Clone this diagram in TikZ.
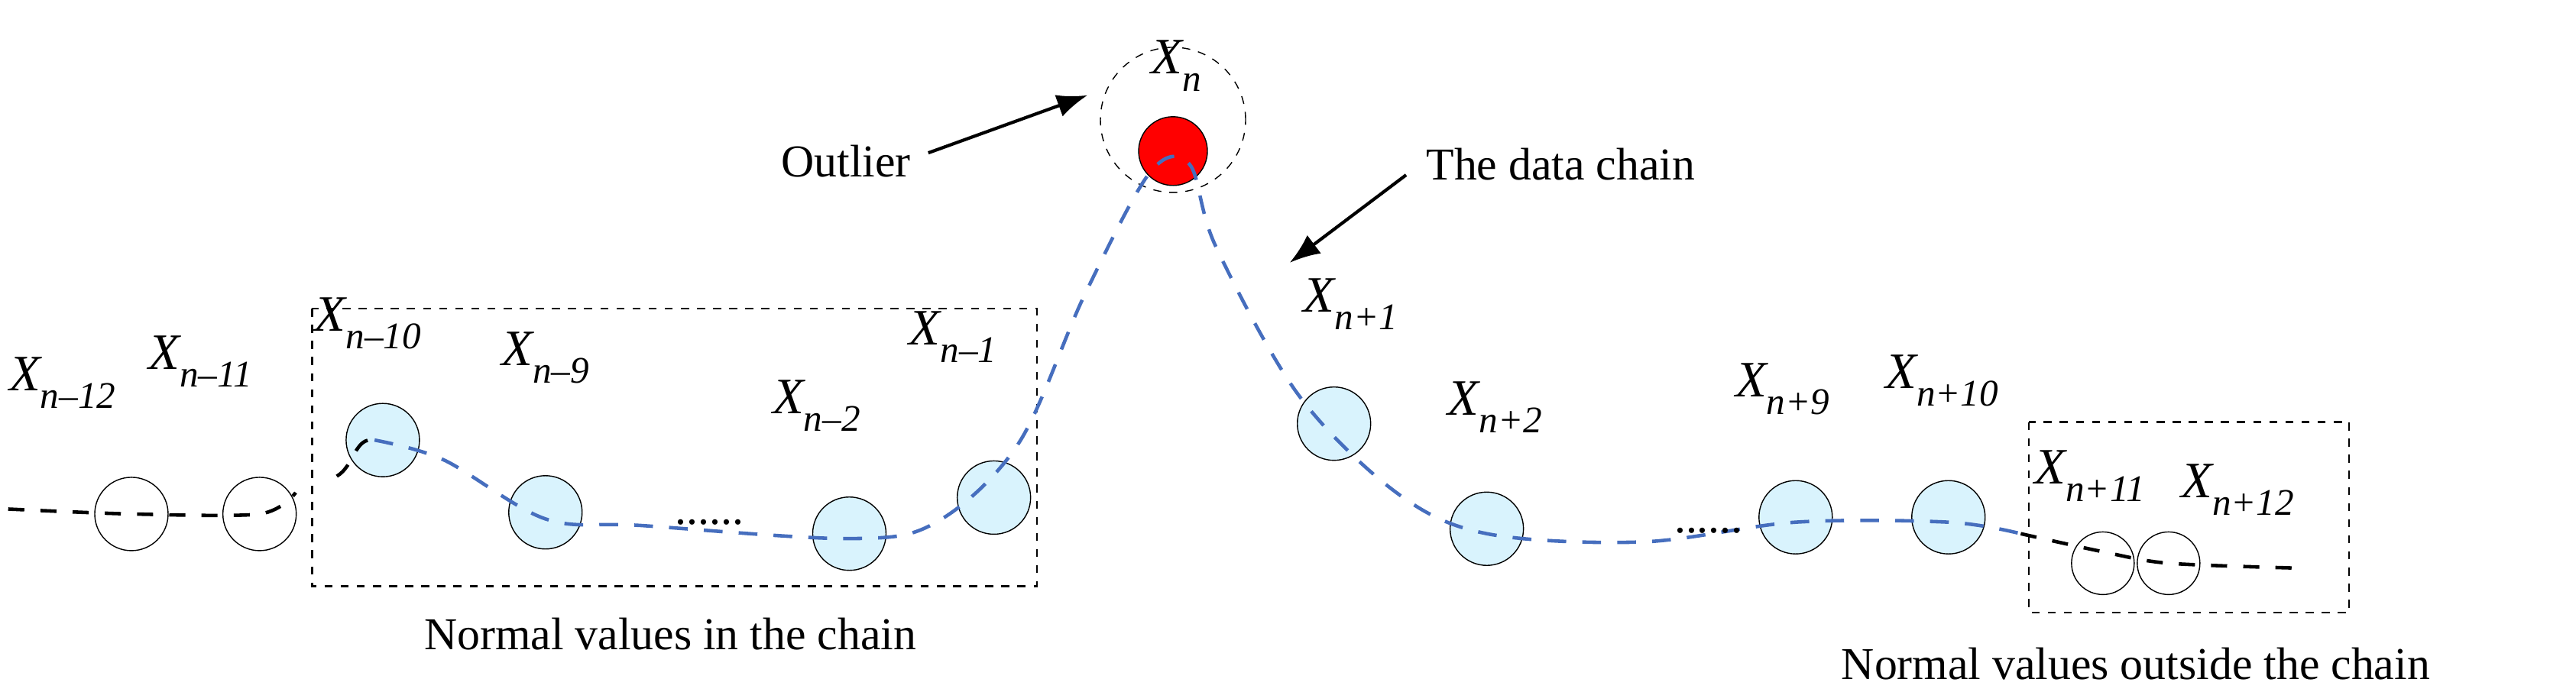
\documentclass[tikz,border=0pt]{standalone}
\usepackage{fontspec}
\setmainfont{Liberation Serif}
\usetikzlibrary{arrows.meta}
\newcommand{\xlab}[1]{{\itshape X}\raisebox{-0.75ex}{\fontsize{14}{16}\selectfont\itshape #1}}
\begin{document}
\begin{tikzpicture}[x=0.215mm,y=-0.215mm,
  val/.style={circle,draw,fill=cyan!15,minimum size=9.6mm,inner sep=0pt},
  outv/.style={circle,draw,minimum size=9.6mm,inner sep=0pt},
  outs/.style={circle,draw,minimum size=8.2mm,inner sep=0pt},
  lab/.style={font=\fontsize{19}{21}\selectfont},
  txt/.style={font=\fontsize{17}{20}\selectfont},
  bline/.style={dash pattern=on 7pt off 6pt,line width=1.3pt,draw={rgb,255:red,70;green,110;blue,190}},
  kline/.style={dash pattern=on 6pt off 6pt,line width=1.3pt},
  box/.style={draw,dashed,line width=0.6pt},
  arr/.style={-{Latex[length=4mm,width=3mm]},line width=1.2pt}]
\useasboundingbox (0,0) rectangle (1568,421);
% boxes
\draw[box] (190,188) rectangle (631,357);
\draw[box] (1235,257) rectangle (1430,373);
% nodes
\node[outv] (a12) at (80,313) {};
\node[outv] (a11) at (158,313) {};
\node[val] (a10) at (233,268) {};
\node[val] (a9) at (332,312) {};
\node[val] (a2) at (517,325) {};
\node[val] (a1) at (605,303) {};
\node[val] (b1) at (812,258) {};
\node[val] (b2) at (905,322) {};
\node[val] (b9) at (1093,315) {};
\node[val] (b10) at (1186,315) {};
\node[outs] (b11) at (1280,343) {};
\node[outs] (b12) at (1320,343) {};
\node[circle,draw,dashed,minimum size=19mm,inner sep=0pt] (oc) at (714,73) {};
\node[circle,draw,fill=red,minimum size=9mm,inner sep=0pt] (xn) at (714,92) {};
% curves
\draw[kline] plot[smooth] coordinates {(5,310) (80,313) (158,313) (180,300)};
\draw[kline] (205,290) to[out=30,in=170] (228,268);
\draw[bline] plot[smooth,tension=0.55] coordinates {(228,268) (270,280) (332,316) (390,320) (517,328) (570,318) (620,270) (660,180) (700,105) (724,100) (740,150) (790,240) (850,300) (905,325) (1000,330) (1093,318) (1186,318) (1230,325)};
\draw[kline] plot[smooth] coordinates {(1230,325) (1280,336) (1320,343) (1400,346)};
\node[lab] at (716,40) {\xlab{n}};
% dots
\node[txt] (d1) at (432,318) {......};
\node[txt] (d2) at (1040,323) {......};
% labels
\node[lab] at (38,233) {\xlab{n--12}};
\node[lab] at (122,220) {\xlab{n--11}};
\node[lab] at (224,197) {\xlab{n--10}};
\node[lab] at (332,218) {\xlab{n--9}};
\node[lab] at (497,247) {\xlab{n--2}};
\node[lab] at (580,205) {\xlab{n--1}};
\node[lab] at (822,185) {\xlab{n+1}};
\node[lab] at (910,248) {\xlab{n+2}};
\node[lab] at (1085,237) {\xlab{n+9}};
\node[lab] at (1182,232) {\xlab{n+10}};
\node[lab] at (1272,290) {\xlab{n+11}};
\node[lab] at (1362,298) {\xlab{n+12}};
% texts
\node[txt] (ol) at (515,98) {Outlier};
\node[txt] (dc) at (950,100) {The data chain};
\node[txt] at (408,386) {Normal values in the chain};
\node[txt] at (1300,404) {Normal values outside the chain};
\coordinate (olt) at (662,58);
\coordinate (dct) at (785,160);
\draw[arr] ([xshift=3pt,yshift=3pt]ol.east) -- (olt);
\draw[arr] ([xshift=-4pt,yshift=-4pt]dc.west) -- (dct);
\end{tikzpicture}
\end{document}
